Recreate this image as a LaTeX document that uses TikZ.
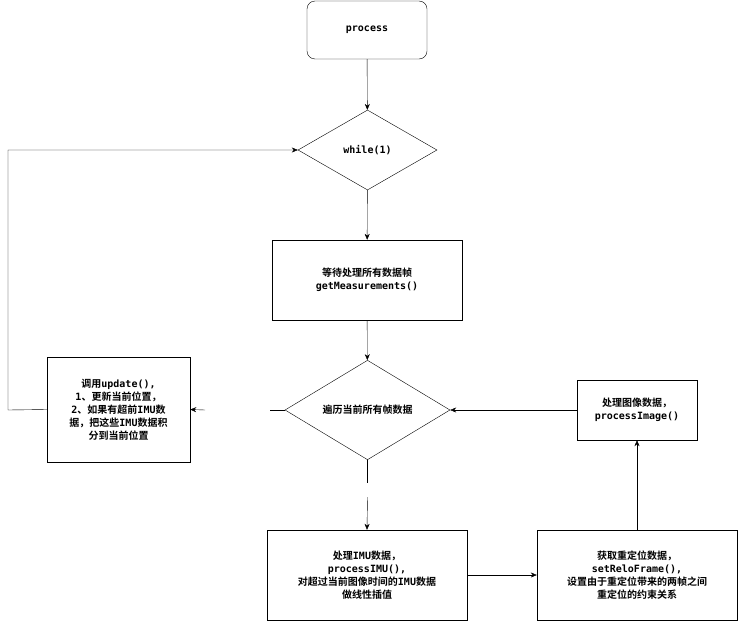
\documentclass[tikz,border=0pt]{standalone}
\usepackage{fontspec}
\setmainfont{DejaVu Sans Mono}
\newfontfamily\cjk{Noto Sans CJK SC}[BoldFont={* Bold}]
\usetikzlibrary{shapes.geometric,arrows.meta}
\begin{document}
\begin{tikzpicture}[x=1pt,y=-1pt,
  every node/.style={font=\fontsize{10}{13}\selectfont\bfseries, align=center},
  box/.style={draw, minimum width=#1, inner sep=1pt},
  dia/.style={draw, diamond, aspect=#1, inner sep=0pt},
  arr/.style={-{Stealth[length=6pt,width=5pt]}}]
\useasboundingbox (0,0) rectangle (738,621);
\fill[white] (0,0) rectangle (738,621);
\node[draw, rounded corners=8pt, minimum width=120pt, minimum height=58pt] (p) at (367,30) {process};
\node[draw, diamond, minimum width=139pt, minimum height=80pt, inner sep=0pt] (w) at (367.5,150) {while(1)};
\node[draw, minimum width=190pt, minimum height=80pt] (g) at (367,280) {{\cjk\bfseries 等待处理所有数据帧}\\getMeasurements()};
\node[draw, diamond, minimum width=165pt, minimum height=80pt, inner sep=0pt] (d) at (367.5,410) {\cjk\bfseries 遍历当前所有帧数据};
\node[draw, minimum width=143pt, minimum height=105pt] (u) at (118.5,409.5) {{\cjk\bfseries 调用}update(),\\1{\cjk\bfseries 、更新当前位置，}\\2{\cjk\bfseries 、如果有超前}IMU{\cjk\bfseries 数}\\{\cjk\bfseries 据，把这些}IMU{\cjk\bfseries 数据积}\\{\cjk\bfseries 分到当前位置}};
\node[draw, minimum width=120pt, minimum height=60pt] (pi) at (637,410) {{\cjk\bfseries 处理图像数据，}\\processImage()};
\node[draw, minimum width=200pt, minimum height=90pt] (m) at (367,575) {{\cjk\bfseries 处理}IMU{\cjk\bfseries 数据，}\\processIMU(),\\{\cjk\bfseries 对超过当前图像时间的}IMU{\cjk\bfseries 数据}\\{\cjk\bfseries 做线性插值}};
\node[draw, minimum width=200pt, minimum height=90pt] (r) at (637,575) {{\cjk\bfseries 获取重定位数据，}\\setReloFrame(),\\{\cjk\bfseries 设置由于重定位带来的两帧之间}\\{\cjk\bfseries 重定位的约束关系}};
\coordinate (l1) at (270,410);
\coordinate (l2) at (205,410);
\coordinate (b1) at (367.5,483);
\coordinate (b2) at (367.5,497);
\draw[arr] (p) -- (w);
\draw[arr] (w) -- (g);
\draw[arr] (g) -- (d);
\draw (d.west) -- (l1);
\draw[arr] (l2) -- (u.east);
\draw (d.south) -- (b1);
\draw[arr] (b2) -- (m.north);
\draw[arr] (u.west) -- (8,410) -- (8,150) -- (w.west);
\draw[arr] (m.east) -- (r.west);
\draw[arr] (r.north) -- (pi.south);
\draw[arr] (pi.west) -- (d.east);
\end{tikzpicture}
\end{document}
